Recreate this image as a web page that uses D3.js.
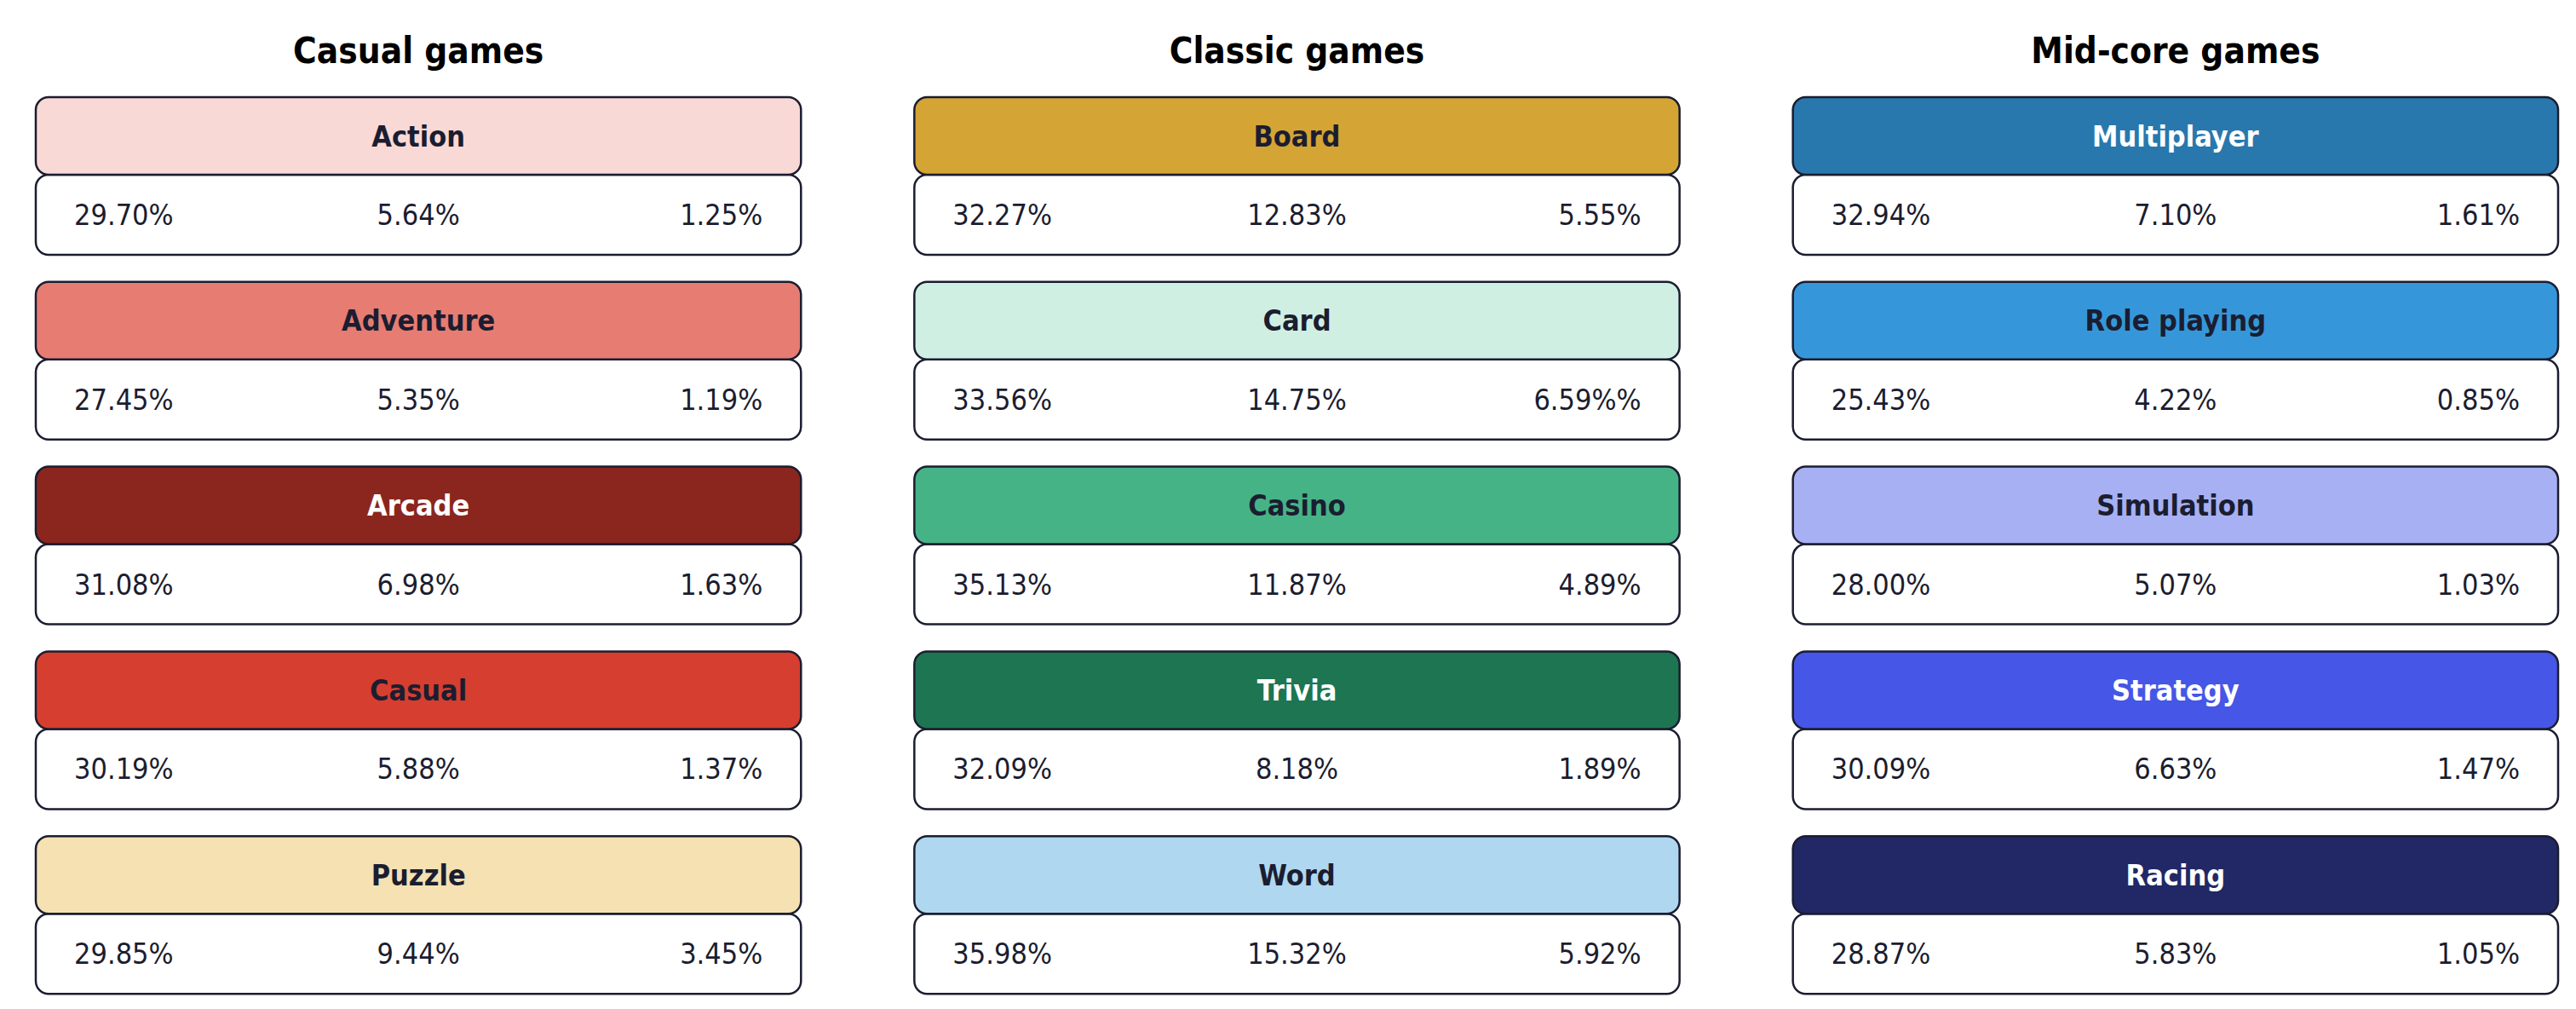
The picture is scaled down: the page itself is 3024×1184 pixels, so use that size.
<!DOCTYPE html>
<html><head><meta charset="utf-8">
<script src="https://cdn.jsdelivr.net/npm/d3@7"></script>
<style>body{margin:0;background:#fff}</style></head>
<body><svg id="c" width="3024" height="1184"></svg>
<script>
const groups = ["Casual games","Classic games","Mid-core games"];
const genres = [
 ["Action","Adventure","Arcade","Casual","Puzzle"],
 ["Board","Card","Casino","Trivia","Word"],
 ["Multiplayer","Role playing","Simulation","Strategy","Racing"]];
const colors = [
 ["#f9d9d5","#e77c72","#8b261e","#d63e2f","#f5e1b1"],
 ["#d4a535","#d0efe3","#46b386","#1e7552","#afd7f0"],
 ["#2878ae","#3597da","#a7b0f2","#4656e6","#212865"]];
const lightText = [
 [false,false,true,false,false],
 [false,false,false,true,false],
 [true,false,false,true,true]];
const values = [
 [["29.70%","5.64%","1.25%"],["27.45%","5.35%","1.19%"],["31.08%","6.98%","1.63%"],["30.19%","5.88%","1.37%"],["29.85%","9.44%","3.45%"]],
 [["32.27%","12.83%","5.55%"],["33.56%","14.75%","6.59%%"],["35.13%","11.87%","4.89%"],["32.09%","8.18%","1.89%"],["35.98%","15.32%","5.92%"]],
 [["32.94%","7.10%","1.61%"],["25.43%","4.22%","0.85%"],["28.00%","5.07%","1.03%"],["30.09%","6.63%","1.47%"],["28.87%","5.83%","1.05%"]]];

const svg = d3.select("#c");
const font = "'DejaVu Sans Condensed', Roboto, sans-serif";
const x = d3.scaleBand().domain(d3.range(3)).range([42,3003]).paddingInner(0.129);
const y = d3.scaleBand().domain(d3.range(5)).range([114,1172]).paddingInner(0.12);
const bw = x.bandwidth(), hh = 91, vh = 94, ink = "#1b1d30";

groups.forEach((g,gi)=>{
  const gx = x(gi);
  svg.append("text").attr("x",gx+bw/2).attr("y",74).attr("text-anchor","middle")
    .attr("font-family",font).attr("font-weight","bold").attr("font-size",42).attr("fill","#000").text(g);
  genres[gi].forEach((name,i)=>{
    const top = y(i);
    svg.append("rect").attr("x",gx).attr("y",top+hh).attr("width",bw).attr("height",vh)
      .attr("rx",15).attr("fill","#fff").attr("stroke",ink).attr("stroke-width",2.5);
    svg.append("rect").attr("x",gx).attr("y",top).attr("width",bw).attr("height",hh)
      .attr("rx",15).attr("fill",colors[gi][i]).attr("stroke",ink).attr("stroke-width",2.5);
    svg.append("text").attr("x",gx+bw/2).attr("y",top+hh/2+12).attr("text-anchor","middle")
      .attr("font-family",font).attr("font-weight","bold").attr("font-size",34)
      .attr("fill",lightText[gi][i]?"#fff":ink).text(name);
    const v = values[gi][i];
    const ty = top+hh+vh/2+12;
    [["start",gx+45],["middle",gx+bw/2],["end",gx+bw-45]].forEach(([a,px],k)=>{
      svg.append("text").attr("x",px).attr("y",ty).attr("text-anchor",a)
        .attr("font-family",font).attr("font-size",34).attr("fill",ink).text(v[k]);
    });
  });
});
</script></body></html>
